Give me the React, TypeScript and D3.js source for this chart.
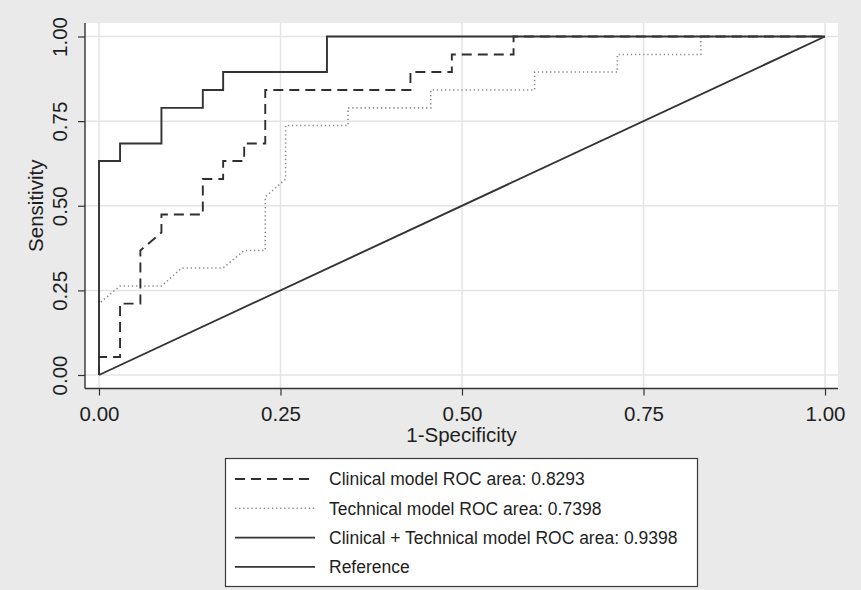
import React, { useEffect, useRef } from "react";
import * as d3 from "d3";

// ROC curves (1-specificity, sensitivity)
const clinicalFpr = [0, 0, 0.029, 0.029, 0.057, 0.057, 0.086, 0.086, 0.143, 0.143, 0.171, 0.171, 0.2, 0.2, 0.229, 0.229, 0.429, 0.429, 0.486, 0.486, 0.571, 0.571, 1];
const clinicalTpr = [0, 0.053, 0.053, 0.211, 0.211, 0.368, 0.421, 0.474, 0.474, 0.579, 0.579, 0.632, 0.632, 0.684, 0.684, 0.842, 0.842, 0.895, 0.895, 0.947, 0.947, 1, 1];

const technicalFpr = [0, 0, 0.029, 0.086, 0.114, 0.171, 0.2, 0.229, 0.229, 0.257, 0.257, 0.343, 0.343, 0.457, 0.457, 0.6, 0.6, 0.714, 0.714, 0.829, 0.829, 1];
const technicalTpr = [0, 0.211, 0.263, 0.263, 0.316, 0.316, 0.368, 0.368, 0.526, 0.579, 0.737, 0.737, 0.789, 0.789, 0.842, 0.842, 0.895, 0.895, 0.947, 0.947, 1, 1];

const combinedFpr = [0, 0, 0.029, 0.029, 0.086, 0.086, 0.143, 0.143, 0.171, 0.171, 0.314, 0.314, 1];
const combinedTpr = [0, 0.632, 0.632, 0.684, 0.684, 0.789, 0.789, 0.842, 0.842, 0.895, 0.895, 1, 1];

const referenceFpr = [0, 1];
const referenceTpr = [0, 1];

const tickValues = [0, 0.25, 0.5, 0.75, 1];

const legendLabels = [
  "Clinical model ROC area: 0.8293",
  "Technical model ROC area: 0.7398",
  "Clinical + Technical model ROC area: 0.9398",
  "Reference",
];

const FONT = "'Liberation Sans', Arial, Helvetica, sans-serif";

const App: React.FC = () => {
  const svgRef = useRef<SVGSVGElement>(null);

  useEffect(() => {
    document.body.style.margin = "0";
    if (!svgRef.current) return;
    const svg = d3.select(svgRef.current);
    svg.selectAll("*").remove();

    const width = 861;
    const height = 590;
    const plotLeft = 85;
    const plotRight = 838;
    const plotTop = 23;
    const plotBottom = 388.5;

    svg.attr("width", width).attr("height", height);

    svg
      .append("rect")
      .attr("width", width)
      .attr("height", height)
      .attr("fill", "#eaeaea");

    svg
      .append("rect")
      .attr("x", plotLeft)
      .attr("y", plotTop)
      .attr("width", plotRight - plotLeft)
      .attr("height", plotBottom - plotTop)
      .attr("fill", "#ffffff");

    const x = d3.scaleLinear().domain([0, 1]).range([99, 825]);
    const y = d3.scaleLinear().domain([0, 1]).range([375, 36.5]);

    // grid
    const grid = svg.append("g").attr("stroke", "#e4e4e4").attr("stroke-width", 1.5);
    tickValues.forEach((t) => {
      grid
        .append("line")
        .attr("x1", plotLeft)
        .attr("x2", plotRight)
        .attr("y1", y(t))
        .attr("y2", y(t));
      grid
        .append("line")
        .attr("x1", x(t))
        .attr("x2", x(t))
        .attr("y1", plotTop)
        .attr("y2", plotBottom);
    });

    // axes
    const xAxis = svg
      .append("g")
      .attr("transform", `translate(0,${plotBottom})`)
      .call(d3.axisBottom(x).tickValues(tickValues).tickSize(7).tickFormat(d3.format(".2f")));
    xAxis.select(".domain").remove();
    xAxis.selectAll("line").attr("stroke", "#333").attr("stroke-width", 1.2);
    xAxis
      .selectAll("text")
      .attr("y", 32)
      .attr("dy", 0)
      .attr("fill", "#1e1e1e")
      .style("font-family", FONT)
      .style("font-size", "20.5px");

    const yAxis = svg
      .append("g")
      .attr("transform", `translate(${plotLeft},0)`)
      .call(d3.axisLeft(y).tickValues(tickValues).tickSize(7).tickFormat(d3.format(".2f")));
    yAxis.select(".domain").remove();
    yAxis.selectAll("line").attr("stroke", "#333").attr("stroke-width", 1.2);
    yAxis
      .selectAll("text")
      .attr("transform", "rotate(-90)")
      .attr("x", 0)
      .attr("y", -18)
      .attr("dy", 0)
      .attr("text-anchor", "middle")
      .attr("fill", "#1e1e1e")
      .style("font-family", FONT)
      .style("font-size", "20.5px");

    svg
      .append("line")
      .attr("x1", plotLeft)
      .attr("x2", plotLeft)
      .attr("y1", plotTop)
      .attr("y2", plotBottom)
      .attr("stroke", "#333")
      .attr("stroke-width", 1.4);
    svg
      .append("line")
      .attr("x1", plotLeft)
      .attr("x2", plotRight)
      .attr("y1", plotBottom)
      .attr("y2", plotBottom)
      .attr("stroke", "#333")
      .attr("stroke-width", 1.4);

    // titles
    svg
      .append("text")
      .attr("x", (plotLeft + plotRight) / 2)
      .attr("y", 442)
      .attr("text-anchor", "middle")
      .attr("fill", "#1e1e1e")
      .style("font-family", FONT)
      .style("font-size", "20.5px")
      .text("1-Specificity");
    svg
      .append("text")
      .attr("transform", `translate(43,${(plotTop + plotBottom) / 2}) rotate(-90)`)
      .attr("text-anchor", "middle")
      .attr("fill", "#1e1e1e")
      .style("font-family", FONT)
      .style("font-size", "20.5px")
      .text("Sensitivity");

    // curves
    const line = d3
      .line<[number, number]>()
      .x((d) => x(d[0]))
      .y((d) => y(d[1]));
    const zip = (a: number[], b: number[]) => a.map((v, i) => [v, b[i]] as [number, number]);

    const styles = [
      { color: "#2f2f2f", width: 1.9, dash: "10,6" },
      { color: "#8a8a8a", width: 1.6, dash: "1.3,2.8" },
      { color: "#333333", width: 1.9, dash: null },
      { color: "#333333", width: 1.9, dash: null },
    ];

    const series = [
      { data: zip(referenceFpr, referenceTpr), style: styles[3] },
      { data: zip(technicalFpr, technicalTpr), style: styles[1] },
      { data: zip(clinicalFpr, clinicalTpr), style: styles[0] },
      { data: zip(combinedFpr, combinedTpr), style: styles[2] },
    ];

    series.forEach((s) => {
      svg
        .append("path")
        .attr("d", line(s.data))
        .attr("fill", "none")
        .attr("stroke", s.style.color)
        .attr("stroke-width", s.style.width)
        .attr("stroke-dasharray", s.style.dash)
        .attr("stroke-linejoin", "miter");
    });

    // legend
    const lg = svg.append("g");
    lg.append("rect")
      .attr("x", 225.5)
      .attr("y", 458.5)
      .attr("width", 472)
      .attr("height", 128)
      .attr("fill", "#ffffff")
      .attr("stroke", "#3a3a3a")
      .attr("stroke-width", 1.2);

    legendLabels.forEach((label, i) => {
      const cy = 479 + i * 29.3;
      const st = styles[i];
      lg.append("line")
        .attr("x1", 235)
        .attr("x2", 315)
        .attr("y1", cy)
        .attr("y2", cy)
        .attr("stroke", st.color)
        .attr("stroke-width", st.width)
        .attr("stroke-dasharray", st.dash);
      lg.append("text")
        .attr("x", 329)
        .attr("y", cy + 6.3)
        .attr("fill", "#1e1e1e")
        .style("font-family", FONT)
        .style("font-size", "17.5px")
        .text(label);
    });
  }, []);

  return <svg ref={svgRef} style={{ display: "block" }} />;
};

export default App;
